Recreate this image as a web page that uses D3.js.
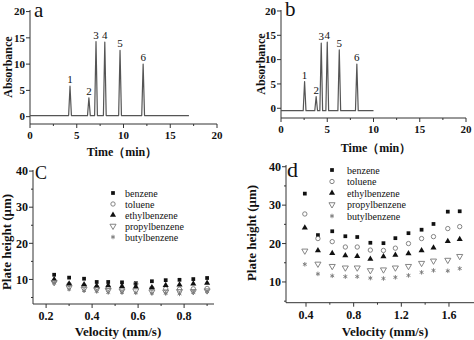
<!DOCTYPE html>
<html>
<head>
<meta charset="utf-8">
<script src="https://cdn.jsdelivr.net/npm/d3@7"></script>
<style>
  html, body { margin: 0; padding: 0; background: #fff; }
  svg { display: block; }
</style>
</head>
<body>
<svg id="fig" width="474" height="340" font-family="'Liberation Serif', 'Times New Roman', 'DejaVu Serif', serif" fill="#111"></svg>
<script>
// chromatograms (a: run 1, b: run 2)
const peakLabels = ['1', '2', '3', '4', '5', '6'];
const peakTimesA = [4.28, 6.3, 7.06, 8.0, 9.63, 12.1];
const peakHeightsA = [5.8, 3.6, 14.3, 14.2, 12.6, 10.0];
const baselineA = 0.2;
const runEndA = 17.0;

const peakTimesB = [2.55, 3.8, 4.35, 5.0, 6.3, 8.2];
const peakHeightsB = [5.5, 2.4, 13.4, 13.6, 12.0, 9.1];
const baselineB = -0.5;
const runEndB = 10.0;

const peakHalfWidth = 0.15;
const timeTicks = [0, 5, 10, 15, 20];
const absTicks = [0, 5, 10, 15, 20];

// plate height vs velocity
const compounds = ['benzene', 'toluene', 'ethylbenzene', 'propylbenzene', 'butylbenzene'];

const velocityC = [0.235, 0.30, 0.365, 0.42, 0.47, 0.53, 0.59, 0.66, 0.72, 0.78, 0.84, 0.90];
const benzeneC = [11.3, 10.5, 10.2, 9.3, 9.3, 9.2, 9.0, 9.5, 9.8, 9.9, 10.1, 10.4];
const tolueneC = [9.6, 8.6, 8.2, 7.8, 7.6, 7.4, 8.8, 7.6, 7.4, 7.3, 7.4, 7.5];
const ethylbenzeneC = [10.0, 8.8, 8.6, 8.2, 8.3, 8.1, 8.0, 7.8, 8.4, 8.5, 8.8, 9.0];
const propylbenzeneC = [9.2, 7.8, 7.4, 7.2, 7.0, 6.9, 6.9, 6.6, 6.6, 6.7, 6.7, 6.9];
const butylbenzeneC = [9.0, 7.3, 6.9, 6.7, 6.4, 6.4, 6.3, 6.2, 6.2, 6.0, 6.4, 6.6];

const velocityD = [0.39, 0.50, 0.62, 0.73, 0.83, 0.94, 1.05, 1.15, 1.26, 1.37, 1.47, 1.59, 1.69];
const benzeneD = [33.0, 22.2, 23.2, 21.9, 21.7, 20.2, 20.1, 21.4, 22.7, 23.6, 25.1, 28.3, 28.4];
const tolueneD = [27.7, 21.3, 20.5, 19.1, 19.1, 18.3, 18.2, 18.8, 20.0, 21.3, 21.8, 23.9, 24.4];
const ethylbenzeneD = [24.1, 18.2, 17.5, 16.9, 16.7, 16.0, 16.6, 17.0, 17.4, 18.2, 18.9, 20.6, 21.1];
const propylbenzeneD = [18.1, 14.7, 14.1, 13.7, 13.7, 13.0, 13.2, 13.7, 14.1, 14.9, 15.5, 15.7, 16.7];
const butylbenzeneD = [14.6, 12.1, 11.6, 11.4, 11.4, 11.0, 10.9, 11.2, 11.7, 12.5, 13.0, 12.9, 13.5];

const heightTicks = [10, 20, 30, 40];
const velTicksC = [0.2, 0.4, 0.6, 0.8];
const velTicksD = [0.4, 0.8, 1.2, 1.6];

const svg = d3.select('#fig');
const axisColor = '#333';

// marker styles per compound
const markers = [
  { type: d3.symbolSquare, size: 14, fill: '#111', stroke: 'none', rotate: 0 },
  { type: d3.symbolCircle, size: 15, fill: 'none', stroke: '#777', rotate: 0 },
  { type: d3.symbolTriangle, size: 16, fill: '#111', stroke: 'none', rotate: 0 },
  { type: d3.symbolTriangle, size: 16, fill: 'none', stroke: '#777', rotate: 180 },
  { type: d3.symbolAsterisk, size: 14, fill: 'none', stroke: '#777', rotate: 0 }
];

function drawAxes(g, x, y, xTicks, yTicks, xMinor, yMinor, fmtX, fontSize) {
  const [x0, x1] = x.range();
  const [y0, y1] = y.range();
  g.append('line').attr('x1', x0).attr('x2', x1).attr('y1', y0).attr('y2', y0)
    .attr('stroke', axisColor).attr('stroke-width', 1);
  g.append('line').attr('x1', x0).attr('x2', x0).attr('y1', y0).attr('y2', y1)
    .attr('stroke', axisColor).attr('stroke-width', 1);

  xTicks.forEach(t => {
    g.append('line').attr('x1', x(t)).attr('x2', x(t)).attr('y1', y0).attr('y2', y0 + 4)
      .attr('stroke', axisColor);
    g.append('text').attr('x', x(t)).attr('y', y0 + 4 + fontSize)
      .attr('text-anchor', 'middle').attr('font-size', fontSize).attr('font-weight', 'bold')
      .text(fmtX(t));
  });
  xMinor.forEach(t => {
    g.append('line').attr('x1', x(t)).attr('x2', x(t)).attr('y1', y0).attr('y2', y0 + 2)
      .attr('stroke', axisColor);
  });
  yTicks.forEach(t => {
    g.append('line').attr('x1', x0 - 4).attr('x2', x0).attr('y1', y(t)).attr('y2', y(t))
      .attr('stroke', axisColor);
    g.append('text').attr('x', x0 - 5).attr('y', y(t)).attr('dy', '0.35em')
      .attr('text-anchor', 'end').attr('font-size', fontSize).attr('font-weight', 'bold')
      .text(t);
  });
  yMinor.forEach(t => {
    g.append('line').attr('x1', x0 - 2).attr('x2', x0).attr('y1', y(t)).attr('y2', y(t))
      .attr('stroke', axisColor);
  });
}

function chromatogram(opts) {
  const { times, heights, base, runEnd, x, y } = opts;
  const g = svg.append('g');
  drawAxes(g, x, y, timeTicks, absTicks, [2.5, 7.5, 12.5, 17.5], [], d => d, 11);

  const pts = [[0, base]];
  times.forEach((t, i) => {
    pts.push([t - peakHalfWidth, base], [t, heights[i]], [t + peakHalfWidth, base]);
  });
  pts.push([runEnd, base]);

  g.append('path')
    .attr('d', d3.line().x(d => x(d[0])).y(d => y(d[1]))(pts))
    .attr('fill', 'none').attr('stroke', '#555').attr('stroke-width', 1.2)
    .attr('stroke-linejoin', 'round');

  g.selectAll('text.peak').data(times).join('text')
    .attr('class', 'peak')
    .attr('x', d => x(d)).attr('y', (d, i) => y(heights[i]) - 3)
    .attr('text-anchor', 'middle').attr('font-size', 11)
    .text((d, i) => peakLabels[i]);

  g.append('text').attr('x', opts.tagX).attr('y', opts.tagY)
    .attr('font-size', 21).text(opts.tag);
  g.append('text')
    .attr('transform', `translate(${opts.yTitleX},${(y.range()[0] + y.range()[1]) / 2}) rotate(-90)`)
    .attr('text-anchor', 'middle').attr('font-size', 12).attr('font-weight', 'bold')
    .text('Absorbance');
  g.append('text').attr('x', opts.xTitleX).attr('y', opts.xTitleY)
    .attr('text-anchor', 'middle').attr('font-size', 12).attr('font-weight', 'bold')
    .text('Time（min）');
}

function plateHeight(opts) {
  const { vel, series, x, y, legendX, legendY } = opts;
  const g = svg.append('g');
  drawAxes(g, x, y, opts.xTicks, heightTicks, opts.xMinor, [5, 15, 25, 35].filter(t => t >= y.domain()[0]),
    d => d.toFixed(1), 12);

  series.forEach((vals, k) => {
    const m = markers[k];
    g.selectAll(null).data(vals).join('path')
      .attr('d', d3.symbol().type(m.type).size(m.size))
      .attr('transform', (d, i) => `translate(${x(vel[i])},${y(d)}) rotate(${m.rotate})`)
      .attr('fill', m.fill).attr('stroke', m.stroke).attr('stroke-width', 0.9);
  });

  // legend
  compounds.forEach((name, k) => {
    const m = markers[k];
    const ly = legendY + k * opts.legendStep;
    g.append('path')
      .attr('d', d3.symbol().type(m.type).size(m.size))
      .attr('transform', `translate(${legendX},${ly}) rotate(${m.rotate})`)
      .attr('fill', m.fill).attr('stroke', m.stroke).attr('stroke-width', 0.9);
    g.append('text').attr('x', legendX + opts.legendGap).attr('y', ly).attr('dy', '0.35em')
      .attr('font-size', 10).text(name);
  });

  g.append('text').attr('x', opts.tagX).attr('y', opts.tagY)
    .attr('font-size', opts.tagSize).text(opts.tag);
  g.append('text')
    .attr('transform', `translate(${opts.yTitleX},${opts.yTitleY}) rotate(-90)`)
    .attr('text-anchor', 'middle').attr('font-size', 13).attr('font-weight', 'bold')
    .text('Plate height (μm)');
  g.append('text').attr('x', opts.xTitleX).attr('y', 336)
    .attr('text-anchor', 'middle').attr('font-size', 13).attr('font-weight', 'bold')
    .text('Velocity (mm/s)');
}

chromatogram({
  times: peakTimesA, heights: peakHeightsA, base: baselineA, runEnd: runEndA,
  x: d3.scaleLinear().domain([0, 20]).range([30, 217]),
  y: d3.scaleLinear().domain([-1.4, 20.3]).range([124, 10]),
  tag: 'a', tagX: 34, tagY: 17, yTitleX: 12, xTitleX: 122, xTitleY: 156
});

chromatogram({
  times: peakTimesB, heights: peakHeightsB, base: baselineB, runEnd: runEndB,
  x: d3.scaleLinear().domain([0, 20]).range([281, 466]),
  y: d3.scaleLinear().domain([-2, 20.2]).range([118, 10]),
  tag: 'b', tagX: 285, tagY: 16, yTitleX: 265, xTitleX: 376, xTitleY: 152
});

plateHeight({
  vel: velocityC,
  series: [benzeneC, tolueneC, ethylbenzeneC, propylbenzeneC, butylbenzeneC],
  x: d3.scaleLinear().domain([0.143, 0.93]).range([33, 214]),
  y: d3.scaleLinear().domain([3.2, 40.3]).range([304, 170]),
  xTicks: velTicksC, xMinor: [0.3, 0.5, 0.7, 0.9],
  legendX: 113, legendY: 193, legendStep: 11, legendGap: 12,
  tag: 'C', tagX: 35, tagY: 179, tagSize: 18, yTitleX: 11, yTitleY: 242, xTitleX: 118
});

plateHeight({
  vel: velocityD,
  series: [benzeneD, tolueneD, ethylbenzeneD, propylbenzeneD, butylbenzeneD],
  x: d3.scaleLinear().domain([0.232, 1.81]).range([286, 474]),
  y: d3.scaleLinear().domain([4.6, 40.45]).range([302.7, 165]),
  xTicks: velTicksD, xMinor: [0.6, 1.0, 1.4],
  legendX: 332, legendY: 170, legendStep: 11.5, legendGap: 15,
  tag: 'd', tagX: 287, tagY: 177, tagSize: 22, yTitleX: 256, yTitleY: 233, xTitleX: 385
});
</script>
</body>
</html>
